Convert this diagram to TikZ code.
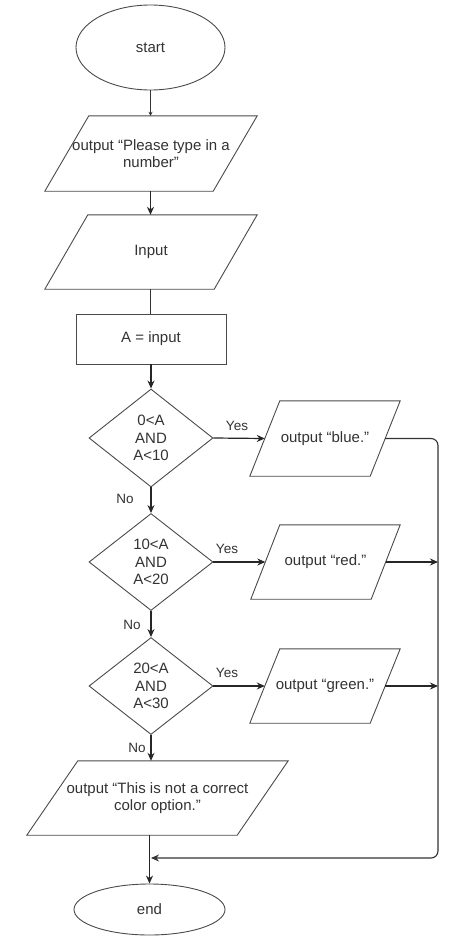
\documentclass[tikz,border=0pt]{standalone}
\usepackage{fontspec}
\setmainfont{Liberation Sans}
\usetikzlibrary{shapes.geometric,arrows.meta,calc}
\definecolor{txt}{HTML}{333333}
\definecolor{edge}{HTML}{4A4A4A}
\tikzset{
  x=1pt,y=1pt,
  base/.style={font=\fontsize{15}{17.5}\selectfont, text=txt, align=center, inner sep=0pt},
  oval/.style={base, ellipse, draw=edge, line width=0.9pt},
  procbox/.style={base, rectangle, draw=edge, line width=0.9pt},
  iobody/.style={base, rectangle, draw=none},
  decision/.style={base, diamond, draw=edge, line width=0.9pt},
  boxline/.style={draw=edge, line width=0.9pt},
  flow/.style={draw=black!85, line width=1.2pt, -{Stealth[length=8pt,width=7pt]}},
  plain/.style={draw=black!80, line width=1.0pt},
  lbl/.style={font=\fontsize{13.5}{16}\selectfont, text=txt, inner sep=0pt},
}
\newcommand{\parabox}[2]{\draw[boxline] ($(#1.north west)+(#2,0)$) -- ($(#1.north east)+(#2,0)$) -- ($(#1.south east)-(#2,0)$) -- ($(#1.south west)-(#2,0)$) -- cycle;}
\begin{document}
\begin{tikzpicture}
\useasboundingbox[fill=white] (0,0) rectangle (474,-937);

\node[oval, minimum width=149, minimum height=85] (start) at (150.5,-47.5) {start};
\node[iobody, minimum width=168, minimum height=75] (p1) at (151,-153.5) {output “Please type in a\\number”};
\parabox{p1}{22}
\node[iobody, minimum width=169, minimum height=74] (p2) at (151,-252) {Input};
\parabox{p2}{21.5}
\node[procbox, minimum width=150, minimum height=50] (assign) at (151,-339) {A = input};
\node[decision, minimum width=124, minimum height=98] (d1) at (151,-438) {0<A\\AND\\A<10};
\node[decision, minimum width=124, minimum height=97] (d2) at (151,-562) {10<A\\AND\\A<20};
\node[decision, minimum width=124, minimum height=97] (d3) at (151,-686) {20<A\\AND\\A<30};
\node[iobody, minimum width=120, minimum height=75] (blue) at (325,-438.5) {output “blue.”};
\parabox{blue}{15}
\node[iobody, minimum width=120, minimum height=74] (red) at (325.5,-562) {output “red.”};
\parabox{red}{14.5}
\node[iobody, minimum width=120, minimum height=74] (green) at (325,-686) {output “green.”};
\parabox{green}{15}
\node[iobody, minimum width=210, minimum height=74] (p4) at (157.5,-798) {output “This is not a correct\\color option.”};
\parabox{p4}{25.5}
\node[oval, minimum width=151, minimum height=51] (end) at (149.5,-909.5) {end};

\coordinate (railtop) at (438,-436);
\coordinate (railbot) at (438,-858);
\coordinate (join) at (151,-858);

% main flow
\draw[plain, -{Stealth[length=4pt,width=4pt]}] (start.south) -- (p1.north -| start.south);
\draw[flow] (p1.south -| start.south) -- (p2.north -| start.south);
\draw[plain] (p2.south -| start.south) -- (assign.north -| start.south);
\draw[flow] (assign.south -| d1.north) -- (d1.north);
\draw[flow] (d1.south) -- (d2.north);
\draw[flow] (d2.south) -- (d3.north);
\draw[flow] (d3.south) -- (d3.south |- p4.north);
\draw[flow] (p4.south -| end.north) -- (end.north);

% yes branches
\draw[flow] (d1.east) -- (blue.west);
\draw[flow] (d2.east) -- (red.west);
\draw[flow] (d3.east) -- (green.west);
\draw[flow] (red.east) -- (red.east -| railtop);
\draw[flow] (green.east) -- (green.east -| railtop);
\draw[plain, line width=1.1pt, rounded corners=7pt, -{Stealth[length=8pt,width=7pt]}] (blue.east) -- (blue.east -| railtop) -- (railbot) -- (join);

% labels
\node[lbl] (y1) at (237,-426) {Yes};
\node[lbl] (y2) at (227,-549) {Yes};
\node[lbl] (y3) at (227,-673) {Yes};
\node[lbl] (n1) at (125,-499) {No};
\node[lbl] (n2) at (132,-625) {No};
\node[lbl] (n3) at (137,-748) {No};
\end{tikzpicture}
\end{document}
